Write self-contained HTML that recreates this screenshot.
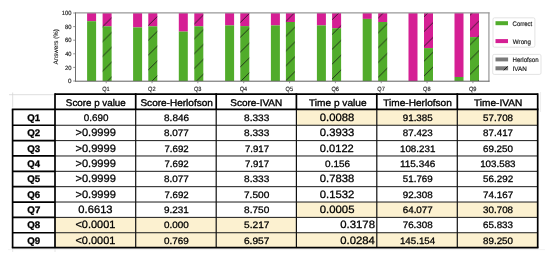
<!DOCTYPE html>
<html><head><meta charset="utf-8"><style>
html,body{margin:0;padding:0;background:#fff;width:550px;height:258px;overflow:hidden}
svg{display:block;text-rendering:geometricPrecision}
text{font-family:"Liberation Sans",Arial,sans-serif;fill:#111}
.tk{font-size:6.2px;fill:#1a1a1a;stroke:#1a1a1a;stroke-width:0.15px}
.yl{fill:#1a1a1a;stroke:#1a1a1a;stroke-width:0.1px}
.lg{font-size:6.6px;fill:#1a1a1a;stroke:#1a1a1a;stroke-width:0.18px}
.hd{font-size:9.6px;fill:#000;stroke:#000;stroke-width:0.35px}
.lb{font-weight:bold;fill:#000;stroke:#000;stroke-width:0.3px}
.cv{fill:#000;stroke:#000;stroke-width:0.28px}
</style></head><body>
<svg width="550" height="258" viewBox="0 0 550 258">
<defs><pattern id="h" patternUnits="userSpaceOnUse" x="10.66" y="0" width="14.83" height="14.83"><path d="M-1,15.83 L15.83,-1 M-1,1 L1,-1 M13.83,15.83 L15.83,13.83" stroke="#151515" stroke-width="0.8"/></pattern></defs>
<line x1="488.9" y1="12.5" x2="488.9" y2="81.5" stroke="#ababab" stroke-width="1.5"/>
<rect x="87.1" y="13.0" width="9.0" height="8.20" fill="#d51f94"/>
<rect x="87.1" y="21.2" width="9.0" height="59.80" fill="#51ac2b"/>
<rect x="102.6" y="13.0" width="9.0" height="13.30" fill="#d51f94"/>
<rect x="102.6" y="26.3" width="9.0" height="54.70" fill="#51ac2b"/>
<rect x="102.6" y="13.0" width="9.0" height="68.0" fill="url(#h)"/>
<rect x="133.1" y="13.0" width="9.0" height="14.40" fill="#d51f94"/>
<rect x="133.1" y="27.4" width="9.0" height="53.60" fill="#51ac2b"/>
<rect x="148.3" y="13.0" width="9.0" height="13.30" fill="#d51f94"/>
<rect x="148.3" y="26.3" width="9.0" height="54.70" fill="#51ac2b"/>
<rect x="148.3" y="13.0" width="9.0" height="68.0" fill="url(#h)"/>
<rect x="178.8" y="13.0" width="9.0" height="18.60" fill="#d51f94"/>
<rect x="178.8" y="31.6" width="9.0" height="49.40" fill="#51ac2b"/>
<rect x="194.3" y="13.0" width="9.0" height="13.30" fill="#d51f94"/>
<rect x="194.3" y="26.3" width="9.0" height="54.70" fill="#51ac2b"/>
<rect x="194.3" y="13.0" width="9.0" height="68.0" fill="url(#h)"/>
<rect x="225.1" y="13.0" width="9.0" height="12.40" fill="#d51f94"/>
<rect x="225.1" y="25.4" width="9.0" height="55.60" fill="#51ac2b"/>
<rect x="240.3" y="13.0" width="9.0" height="13.10" fill="#d51f94"/>
<rect x="240.3" y="26.1" width="9.0" height="54.90" fill="#51ac2b"/>
<rect x="240.3" y="13.0" width="9.0" height="68.0" fill="url(#h)"/>
<rect x="270.9" y="13.0" width="9.0" height="12.40" fill="#d51f94"/>
<rect x="270.9" y="25.4" width="9.0" height="55.60" fill="#51ac2b"/>
<rect x="285.9" y="13.0" width="9.0" height="9.00" fill="#d51f94"/>
<rect x="285.9" y="22.0" width="9.0" height="59.00" fill="#51ac2b"/>
<rect x="285.9" y="13.0" width="9.0" height="68.0" fill="url(#h)"/>
<rect x="316.9" y="13.0" width="9.0" height="12.40" fill="#d51f94"/>
<rect x="316.9" y="25.4" width="9.0" height="55.60" fill="#51ac2b"/>
<rect x="332.1" y="13.0" width="9.0" height="15.20" fill="#d51f94"/>
<rect x="332.1" y="28.2" width="9.0" height="52.80" fill="#51ac2b"/>
<rect x="332.1" y="13.0" width="9.0" height="68.0" fill="url(#h)"/>
<rect x="362.7" y="13.0" width="9.0" height="5.90" fill="#d51f94"/>
<rect x="362.7" y="18.9" width="9.0" height="62.10" fill="#51ac2b"/>
<rect x="378.2" y="13.0" width="9.0" height="9.00" fill="#d51f94"/>
<rect x="378.2" y="22.0" width="9.0" height="59.00" fill="#51ac2b"/>
<rect x="378.2" y="13.0" width="9.0" height="68.0" fill="url(#h)"/>
<rect x="408.5" y="13.0" width="9.0" height="68.00" fill="#d51f94"/>
<rect x="424.0" y="13.0" width="9.0" height="35.10" fill="#d51f94"/>
<rect x="424.0" y="48.1" width="9.0" height="32.90" fill="#51ac2b"/>
<rect x="424.0" y="13.0" width="9.0" height="68.0" fill="url(#h)"/>
<rect x="454.5" y="13.0" width="9.0" height="64.00" fill="#d51f94"/>
<rect x="454.5" y="77.0" width="9.0" height="4.00" fill="#51ac2b"/>
<rect x="470.0" y="13.0" width="9.0" height="24.10" fill="#d51f94"/>
<rect x="470.0" y="37.1" width="9.0" height="43.90" fill="#51ac2b"/>
<rect x="470.0" y="13.0" width="9.0" height="68.0" fill="url(#h)"/>
<line x1="75" y1="12.8" x2="489.6" y2="12.8" stroke="#999999" stroke-width="1.2"/>
<line x1="75.5" y1="12.5" x2="75.5" y2="81.5" stroke="#6e6e6e" stroke-width="1"/>
<line x1="75" y1="81.2" x2="489.6" y2="81.2" stroke="#606060" stroke-width="1"/>
<line x1="73.2" y1="81.0" x2="75.5" y2="81.0" stroke="#7a7a7a" stroke-width="0.8"/>
<text x="68.05" y="83.25" class="tk" font-size="6.4" textLength="3.49" lengthAdjust="spacingAndGlyphs">0</text>
<line x1="73.2" y1="67.4" x2="75.5" y2="67.4" stroke="#7a7a7a" stroke-width="0.8"/>
<text x="65.01" y="69.65" class="tk" font-size="6.4" textLength="6.52" lengthAdjust="spacingAndGlyphs">20</text>
<line x1="73.2" y1="53.8" x2="75.5" y2="53.8" stroke="#7a7a7a" stroke-width="0.8"/>
<text x="65.17" y="56.05" class="tk" font-size="6.4" textLength="6.35" lengthAdjust="spacingAndGlyphs">40</text>
<line x1="73.2" y1="40.2" x2="75.5" y2="40.2" stroke="#7a7a7a" stroke-width="0.8"/>
<text x="65.00" y="42.45" class="tk" font-size="6.4" textLength="6.53" lengthAdjust="spacingAndGlyphs">60</text>
<line x1="73.2" y1="26.6" x2="75.5" y2="26.6" stroke="#7a7a7a" stroke-width="0.8"/>
<text x="65.05" y="28.85" class="tk" font-size="6.4" textLength="6.48" lengthAdjust="spacingAndGlyphs">80</text>
<line x1="73.2" y1="13.0" x2="75.5" y2="13.0" stroke="#7a7a7a" stroke-width="0.8"/>
<text x="61.86" y="15.25" class="tk" font-size="6.4" textLength="9.67" lengthAdjust="spacingAndGlyphs">100</text>
<text class="yl" x="-17.46" y="0" font-size="6.5" textLength="35.30" lengthAdjust="spacingAndGlyphs" transform="translate(58.3,46.95) rotate(-90)">Answers (%)</text>
<line x1="106.20" y1="81" x2="106.20" y2="83.2" stroke="#7a7a7a" stroke-width="0.8"/>
<text x="102.23" y="90.60" class="tk" font-size="6.8" textLength="7.54" lengthAdjust="spacingAndGlyphs">Q1</text>
<line x1="152.04" y1="81" x2="152.04" y2="83.2" stroke="#7a7a7a" stroke-width="0.8"/>
<text x="148.07" y="90.60" class="tk" font-size="6.8" textLength="7.55" lengthAdjust="spacingAndGlyphs">Q2</text>
<line x1="197.88" y1="81" x2="197.88" y2="83.2" stroke="#7a7a7a" stroke-width="0.8"/>
<text x="193.91" y="90.60" class="tk" font-size="6.8" textLength="7.51" lengthAdjust="spacingAndGlyphs">Q3</text>
<line x1="243.72" y1="81" x2="243.72" y2="83.2" stroke="#7a7a7a" stroke-width="0.8"/>
<text x="239.76" y="90.60" class="tk" font-size="6.8" textLength="7.43" lengthAdjust="spacingAndGlyphs">Q4</text>
<line x1="289.56" y1="81" x2="289.56" y2="83.2" stroke="#7a7a7a" stroke-width="0.8"/>
<text x="285.59" y="90.60" class="tk" font-size="6.8" textLength="7.50" lengthAdjust="spacingAndGlyphs">Q5</text>
<line x1="335.40" y1="81" x2="335.40" y2="83.2" stroke="#7a7a7a" stroke-width="0.8"/>
<text x="331.43" y="90.60" class="tk" font-size="6.8" textLength="7.51" lengthAdjust="spacingAndGlyphs">Q6</text>
<line x1="381.24" y1="81" x2="381.24" y2="83.2" stroke="#7a7a7a" stroke-width="0.8"/>
<text x="377.27" y="90.60" class="tk" font-size="6.8" textLength="7.55" lengthAdjust="spacingAndGlyphs">Q7</text>
<line x1="427.08" y1="81" x2="427.08" y2="83.2" stroke="#7a7a7a" stroke-width="0.8"/>
<text x="423.11" y="90.60" class="tk" font-size="6.8" textLength="7.51" lengthAdjust="spacingAndGlyphs">Q8</text>
<line x1="472.92" y1="81" x2="472.92" y2="83.2" stroke="#7a7a7a" stroke-width="0.8"/>
<text x="468.95" y="90.60" class="tk" font-size="6.8" textLength="7.54" lengthAdjust="spacingAndGlyphs">Q9</text>
<rect x="493.0" y="17.8" width="41.9" height="29.4" rx="1.5" fill="#fff" stroke="#dcdcdc" stroke-width="0.8"/>
<rect x="495.5" y="21.2" width="12.5" height="4" fill="#51ac2b"/>
<text x="512.60" y="25.60" class="lg" font-size="6.6" textLength="19.55" lengthAdjust="spacingAndGlyphs">Correct</text>
<rect x="495.5" y="39.1" width="12.5" height="4" fill="#d51f94"/>
<text x="512.87" y="43.60" class="lg" font-size="6.6" textLength="18.12" lengthAdjust="spacingAndGlyphs">Wrong</text>
<rect x="492.7" y="54.4" width="48.3" height="20.0" rx="1.5" fill="#fff" stroke="#dcdcdc" stroke-width="0.8"/>
<rect x="495.5" y="57.5" width="12.6" height="3.9" fill="#7a7a7a"/>
<text x="512.60" y="61.50" class="lg" font-size="6.6" textLength="25.99" lengthAdjust="spacingAndGlyphs">Herlofson</text>
<rect x="495.5" y="66.3" width="12.6" height="4.0" fill="#7a7a7a"/>
<line x1="503.7" y1="70.3" x2="507.7" y2="66.3" stroke="#111" stroke-width="0.9"/>
<text x="512.54" y="70.60" class="lg" font-size="6.6" textLength="14.26" lengthAdjust="spacingAndGlyphs">IVAN</text>
<line x1="9" y1="94.7" x2="55" y2="94.7" stroke="#d4d4d4" stroke-width="0.8"/>
<line x1="12.7" y1="92.5" x2="12.7" y2="107.5" stroke="#d4d4d4" stroke-width="0.8"/>
<line x1="8" y1="249.6" x2="545" y2="249.6" stroke="#efefef" stroke-width="0.8"/>
<line x1="12.7" y1="248" x2="12.7" y2="252" stroke="#e0e0e0" stroke-width="0.8"/>
<line x1="55" y1="248" x2="55" y2="252" stroke="#e0e0e0" stroke-width="0.8"/>
<line x1="540.6" y1="92" x2="540.6" y2="112" stroke="#e8e8e8" stroke-width="0.8"/>
<rect x="296.4" y="109.40" width="80.40" height="15.86" fill="#fcf1d0"/>
<rect x="376.8" y="109.40" width="80.50" height="15.86" fill="#fcf1d0"/>
<rect x="457.3" y="109.40" width="80.40" height="15.86" fill="#fcf1d0"/>
<rect x="296.4" y="202.03" width="80.40" height="15.36" fill="#fcf1d0"/>
<rect x="376.8" y="202.03" width="80.50" height="15.36" fill="#fcf1d0"/>
<rect x="457.3" y="202.03" width="80.40" height="15.36" fill="#fcf1d0"/>
<rect x="55.0" y="217.39" width="80.70" height="15.36" fill="#fcf1d0"/>
<rect x="135.7" y="217.39" width="80.50" height="15.36" fill="#fcf1d0"/>
<rect x="216.2" y="217.39" width="80.20" height="15.36" fill="#fcf1d0"/>
<rect x="55.0" y="232.74" width="80.70" height="14.86" fill="#fcf1d0"/>
<rect x="135.7" y="232.74" width="80.50" height="14.86" fill="#fcf1d0"/>
<rect x="216.2" y="232.74" width="80.20" height="14.86" fill="#fcf1d0"/>
<rect x="296.4" y="232.74" width="80.40" height="14.86" fill="#fcf1d0"/>
<rect x="376.8" y="232.74" width="80.50" height="14.86" fill="#fcf1d0"/>
<rect x="457.3" y="232.74" width="80.40" height="14.86" fill="#fcf1d0"/>
<line x1="55.0" y1="125.26" x2="537.7" y2="125.26" stroke="#1a1a1a" stroke-width="1"/>
<line x1="12.6" y1="125.26" x2="55.0" y2="125.26" stroke="#000" stroke-width="1.7"/>
<line x1="55.0" y1="140.61" x2="537.7" y2="140.61" stroke="#1a1a1a" stroke-width="1"/>
<line x1="12.6" y1="140.61" x2="55.0" y2="140.61" stroke="#000" stroke-width="1.7"/>
<line x1="55.0" y1="155.97" x2="537.7" y2="155.97" stroke="#1a1a1a" stroke-width="1"/>
<line x1="12.6" y1="155.97" x2="55.0" y2="155.97" stroke="#000" stroke-width="1.7"/>
<line x1="55.0" y1="171.32" x2="537.7" y2="171.32" stroke="#1a1a1a" stroke-width="1"/>
<line x1="12.6" y1="171.32" x2="55.0" y2="171.32" stroke="#000" stroke-width="1.7"/>
<line x1="55.0" y1="186.68" x2="537.7" y2="186.68" stroke="#1a1a1a" stroke-width="1"/>
<line x1="12.6" y1="186.68" x2="55.0" y2="186.68" stroke="#000" stroke-width="1.7"/>
<line x1="55.0" y1="202.03" x2="537.7" y2="202.03" stroke="#1a1a1a" stroke-width="1"/>
<line x1="12.6" y1="202.03" x2="55.0" y2="202.03" stroke="#000" stroke-width="1.7"/>
<line x1="55.0" y1="217.39" x2="537.7" y2="217.39" stroke="#1a1a1a" stroke-width="1"/>
<line x1="12.6" y1="217.39" x2="55.0" y2="217.39" stroke="#000" stroke-width="1.7"/>
<line x1="55.0" y1="232.74" x2="537.7" y2="232.74" stroke="#1a1a1a" stroke-width="1"/>
<line x1="12.6" y1="232.74" x2="55.0" y2="232.74" stroke="#000" stroke-width="1.7"/>
<line x1="135.7" y1="109.4" x2="135.7" y2="247.6" stroke="#111" stroke-width="1.2"/>
<line x1="216.2" y1="109.4" x2="216.2" y2="247.6" stroke="#111" stroke-width="1.2"/>
<line x1="296.4" y1="109.4" x2="296.4" y2="247.6" stroke="#111" stroke-width="1.2"/>
<line x1="376.8" y1="109.4" x2="376.8" y2="247.6" stroke="#111" stroke-width="1.2"/>
<line x1="457.3" y1="109.4" x2="457.3" y2="247.6" stroke="#111" stroke-width="1.2"/>
<line x1="55.0" y1="93.3" x2="55.0" y2="109.4" stroke="#000" stroke-width="1.7"/>
<line x1="135.7" y1="93.3" x2="135.7" y2="109.4" stroke="#000" stroke-width="1.7"/>
<line x1="216.2" y1="93.3" x2="216.2" y2="109.4" stroke="#000" stroke-width="1.7"/>
<line x1="296.4" y1="93.3" x2="296.4" y2="109.4" stroke="#000" stroke-width="1.7"/>
<line x1="376.8" y1="93.3" x2="376.8" y2="109.4" stroke="#000" stroke-width="1.7"/>
<line x1="457.3" y1="93.3" x2="457.3" y2="109.4" stroke="#000" stroke-width="1.7"/>
<line x1="537.7" y1="93.3" x2="537.7" y2="109.4" stroke="#000" stroke-width="1.7"/>
<line x1="55.0" y1="94.1" x2="537.7" y2="94.1" stroke="#000" stroke-width="1.7"/>
<line x1="11.799999999999999" y1="109.4" x2="538.5" y2="109.4" stroke="#000" stroke-width="1.7"/>
<line x1="11.799999999999999" y1="247.6" x2="538.5" y2="247.6" stroke="#000" stroke-width="1.7"/>
<line x1="12.6" y1="109.4" x2="12.6" y2="247.6" stroke="#000" stroke-width="1.7"/>
<line x1="55.0" y1="109.4" x2="55.0" y2="247.6" stroke="#000" stroke-width="1.7"/>
<line x1="537.7" y1="109.4" x2="537.7" y2="247.6" stroke="#000" stroke-width="1.7"/>
<text x="65.86" y="105.80" class="hd" font-size="9.6" textLength="59.88" lengthAdjust="spacingAndGlyphs">Score p value</text>
<text x="140.44" y="105.80" class="hd" font-size="9.6" textLength="72.41" lengthAdjust="spacingAndGlyphs">Score-Herlofson</text>
<text x="230.25" y="105.80" class="hd" font-size="9.6" textLength="51.95" lengthAdjust="spacingAndGlyphs">Score-IVAN</text>
<text x="309.07" y="105.80" class="hd" font-size="9.6" textLength="57.47" lengthAdjust="spacingAndGlyphs">Time p value</text>
<text x="383.27" y="105.80" class="hd" font-size="9.6" textLength="68.58" lengthAdjust="spacingAndGlyphs">Time-Herlofson</text>
<text x="473.98" y="105.80" class="hd" font-size="9.6" textLength="48.23" lengthAdjust="spacingAndGlyphs">Time-IVAN</text>
<text x="27.30" y="120.90" class="lb" font-size="9.6" textLength="12.86" lengthAdjust="spacingAndGlyphs">Q1</text>
<text x="83.81" y="120.90" class="cv" font-size="9.6" textLength="24.77" lengthAdjust="spacingAndGlyphs">0.690</text>
<text x="164.07" y="120.90" class="cv" font-size="9.3" textLength="24.97" lengthAdjust="spacingAndGlyphs">8.846</text>
<text x="244.06" y="120.90" class="cv" font-size="9.3" textLength="25.28" lengthAdjust="spacingAndGlyphs">8.333</text>
<text x="319.76" y="120.90" class="cv" font-size="10.7" textLength="34.43" lengthAdjust="spacingAndGlyphs">0.0088</text>
<text x="402.74" y="120.90" class="cv" font-size="9.3" textLength="29.97" lengthAdjust="spacingAndGlyphs">91.385</text>
<text x="483.11" y="120.90" class="cv" font-size="9.3" textLength="29.92" lengthAdjust="spacingAndGlyphs">57.708</text>
<text x="27.30" y="136.26" class="lb" font-size="9.6" textLength="12.99" lengthAdjust="spacingAndGlyphs">Q2</text>
<text x="75.45" y="136.26" class="cv" font-size="10.7" textLength="40.37" lengthAdjust="spacingAndGlyphs">&gt;0.9999</text>
<text x="164.07" y="136.26" class="cv" font-size="9.3" textLength="24.83" lengthAdjust="spacingAndGlyphs">8.077</text>
<text x="244.06" y="136.26" class="cv" font-size="9.3" textLength="25.28" lengthAdjust="spacingAndGlyphs">8.333</text>
<text x="319.76" y="136.26" class="cv" font-size="10.7" textLength="34.43" lengthAdjust="spacingAndGlyphs">0.3933</text>
<text x="402.77" y="136.26" class="cv" font-size="9.3" textLength="29.96" lengthAdjust="spacingAndGlyphs">87.423</text>
<text x="483.07" y="136.26" class="cv" font-size="9.3" textLength="30.02" lengthAdjust="spacingAndGlyphs">87.417</text>
<text x="27.30" y="151.61" class="lb" font-size="9.6" textLength="12.95" lengthAdjust="spacingAndGlyphs">Q3</text>
<text x="75.45" y="151.61" class="cv" font-size="10.7" textLength="40.37" lengthAdjust="spacingAndGlyphs">&gt;0.9999</text>
<text x="164.50" y="151.61" class="cv" font-size="9.3" textLength="24.18" lengthAdjust="spacingAndGlyphs">7.692</text>
<text x="244.90" y="151.61" class="cv" font-size="9.3" textLength="24.18" lengthAdjust="spacingAndGlyphs">7.917</text>
<text x="319.77" y="151.61" class="cv" font-size="10.7" textLength="33.99" lengthAdjust="spacingAndGlyphs">0.0122</text>
<text x="399.95" y="151.61" class="cv" font-size="9.3" textLength="35.43" lengthAdjust="spacingAndGlyphs">108.231</text>
<text x="483.00" y="151.61" class="cv" font-size="9.3" textLength="29.98" lengthAdjust="spacingAndGlyphs">69.250</text>
<text x="27.31" y="166.97" class="lb" font-size="9.6" textLength="12.64" lengthAdjust="spacingAndGlyphs">Q4</text>
<text x="75.45" y="166.97" class="cv" font-size="10.7" textLength="40.37" lengthAdjust="spacingAndGlyphs">&gt;0.9999</text>
<text x="164.50" y="166.97" class="cv" font-size="9.3" textLength="24.18" lengthAdjust="spacingAndGlyphs">7.692</text>
<text x="244.90" y="166.97" class="cv" font-size="9.3" textLength="24.18" lengthAdjust="spacingAndGlyphs">7.917</text>
<text x="325.11" y="166.97" class="cv" font-size="9.3" textLength="24.93" lengthAdjust="spacingAndGlyphs">0.156</text>
<text x="399.95" y="166.97" class="cv" font-size="9.3" textLength="35.38" lengthAdjust="spacingAndGlyphs">115.346</text>
<text x="480.15" y="166.97" class="cv" font-size="9.3" textLength="35.38" lengthAdjust="spacingAndGlyphs">103.583</text>
<text x="27.30" y="182.32" class="lb" font-size="9.6" textLength="12.86" lengthAdjust="spacingAndGlyphs">Q5</text>
<text x="75.45" y="182.32" class="cv" font-size="10.7" textLength="40.37" lengthAdjust="spacingAndGlyphs">&gt;0.9999</text>
<text x="164.07" y="182.32" class="cv" font-size="9.3" textLength="24.83" lengthAdjust="spacingAndGlyphs">8.077</text>
<text x="244.06" y="182.32" class="cv" font-size="9.3" textLength="25.28" lengthAdjust="spacingAndGlyphs">8.333</text>
<text x="319.76" y="182.32" class="cv" font-size="10.7" textLength="34.43" lengthAdjust="spacingAndGlyphs">0.7838</text>
<text x="402.81" y="182.32" class="cv" font-size="9.3" textLength="29.96" lengthAdjust="spacingAndGlyphs">51.769</text>
<text x="483.11" y="182.32" class="cv" font-size="9.3" textLength="29.99" lengthAdjust="spacingAndGlyphs">56.292</text>
<text x="27.30" y="197.68" class="lb" font-size="9.6" textLength="12.95" lengthAdjust="spacingAndGlyphs">Q6</text>
<text x="75.45" y="197.68" class="cv" font-size="10.7" textLength="40.37" lengthAdjust="spacingAndGlyphs">&gt;0.9999</text>
<text x="164.50" y="197.68" class="cv" font-size="9.3" textLength="24.18" lengthAdjust="spacingAndGlyphs">7.692</text>
<text x="243.98" y="197.68" class="cv" font-size="9.3" textLength="25.31" lengthAdjust="spacingAndGlyphs">7.500</text>
<text x="319.76" y="197.68" class="cv" font-size="10.7" textLength="34.51" lengthAdjust="spacingAndGlyphs">0.1532</text>
<text x="402.74" y="197.68" class="cv" font-size="9.3" textLength="29.99" lengthAdjust="spacingAndGlyphs">92.308</text>
<text x="483.00" y="197.68" class="cv" font-size="9.3" textLength="30.10" lengthAdjust="spacingAndGlyphs">74.167</text>
<text x="27.30" y="213.03" class="lb" font-size="9.6" textLength="13.03" lengthAdjust="spacingAndGlyphs">Q7</text>
<text x="78.36" y="213.03" class="cv" font-size="10.7" textLength="34.23" lengthAdjust="spacingAndGlyphs">0.6613</text>
<text x="164.03" y="213.03" class="cv" font-size="9.3" textLength="24.85" lengthAdjust="spacingAndGlyphs">9.231</text>
<text x="244.06" y="213.03" class="cv" font-size="9.3" textLength="25.23" lengthAdjust="spacingAndGlyphs">8.750</text>
<text x="319.76" y="213.03" class="cv" font-size="10.7" textLength="34.72" lengthAdjust="spacingAndGlyphs">0.0005</text>
<text x="402.70" y="213.03" class="cv" font-size="9.3" textLength="30.09" lengthAdjust="spacingAndGlyphs">64.077</text>
<text x="483.13" y="213.03" class="cv" font-size="9.3" textLength="29.90" lengthAdjust="spacingAndGlyphs">30.708</text>
<text x="27.30" y="228.39" class="lb" font-size="9.6" textLength="12.89" lengthAdjust="spacingAndGlyphs">Q8</text>
<text x="75.46" y="228.39" class="cv" font-size="10.7" textLength="39.87" lengthAdjust="spacingAndGlyphs">&lt;0.0001</text>
<text x="164.11" y="228.39" class="cv" font-size="9.3" textLength="24.67" lengthAdjust="spacingAndGlyphs">0.000</text>
<text x="244.09" y="228.39" class="cv" font-size="9.3" textLength="25.31" lengthAdjust="spacingAndGlyphs">5.217</text>
<text x="340.26" y="228.39" class="cv" font-size="10.7" textLength="34.74" lengthAdjust="spacingAndGlyphs">0.3178</text>
<text x="402.70" y="228.39" class="cv" font-size="9.3" textLength="30.03" lengthAdjust="spacingAndGlyphs">76.308</text>
<text x="483.00" y="228.39" class="cv" font-size="9.3" textLength="30.03" lengthAdjust="spacingAndGlyphs">65.833</text>
<text x="27.30" y="243.74" class="lb" font-size="9.6" textLength="12.96" lengthAdjust="spacingAndGlyphs">Q9</text>
<text x="75.46" y="243.74" class="cv" font-size="10.7" textLength="39.87" lengthAdjust="spacingAndGlyphs">&lt;0.0001</text>
<text x="164.11" y="243.74" class="cv" font-size="9.3" textLength="24.75" lengthAdjust="spacingAndGlyphs">0.769</text>
<text x="243.98" y="243.74" class="cv" font-size="9.3" textLength="25.43" lengthAdjust="spacingAndGlyphs">6.957</text>
<text x="340.26" y="243.74" class="cv" font-size="10.7" textLength="34.57" lengthAdjust="spacingAndGlyphs">0.0284</text>
<text x="399.96" y="243.74" class="cv" font-size="9.3" textLength="35.23" lengthAdjust="spacingAndGlyphs">145.154</text>
<text x="483.08" y="243.74" class="cv" font-size="9.3" textLength="29.91" lengthAdjust="spacingAndGlyphs">89.250</text>
</svg>
</body></html>
